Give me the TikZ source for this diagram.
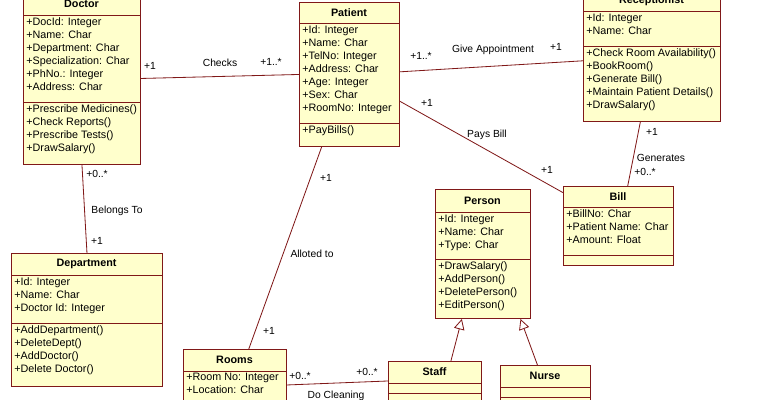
\documentclass[tikz,border=0pt]{standalone}
\usepackage{fontspec}
\setmainfont{Liberation Sans}
\usetikzlibrary{arrows.meta}
\definecolor{umlfill}{RGB}{255,255,204}
\definecolor{umlline}{RGB}{128,24,24}
\begin{document}
\begin{tikzpicture}[
        x=0.03cm, y=-0.03cm,
        cls/.style={rectangle, draw=umlline, fill=umlfill, line width=0.8pt, anchor=north west, inner sep=0pt},
        sep/.style={draw=umlline, line width=0.8pt},
        title/.style={font=\fontsize{9.2}{10}\selectfont\bfseries},
        body/.style={anchor=north west, align=left, inner sep=1pt, font=\fontsize{9.2}{11.1}\selectfont},
        assoc/.style={draw=umlline, line width=0.7pt},
        gen/.style={draw=umlline, line width=0.7pt, -{Triangle[open, length=9pt, width=9pt]}},
        label/.style={font=\fontsize{8.8}{10}\selectfont, inner sep=1pt}
    ]
        \useasboundingbox[fill=white] (0,0) rectangle (762,400);

        % Doctor
        \node[cls, minimum width=3.51cm, minimum height=5.16cm] (doctor) at (23,-8) {};
        \draw[sep] (23,15) -- (140,15) (23,102) -- (140,102);
        \node[title] (doctor-t) at (81.5,4) {Doctor};
        \node[body] (doctor-a) at (25,16) {+DocId: Integer\\+Name: Char\\+Department: Char\\+Specialization: Char\\+PhNo.: Integer\\+Address: Char};
        \node[body] (doctor-m) at (25,103) {+Prescribe Medicines()\\+Check Reports()\\+Prescribe Tests()\\+DrawSalary()};

        % Patient
        \node[cls, minimum width=3.0cm, minimum height=4.32cm] (patient) at (299,2) {};
        \draw[sep] (299,23) -- (399,23) (299,123) -- (399,123);
        \node[title] (patient-t) at (349,12.5) {Patient};
        \node[body] (patient-a) at (301,24) {+Id: Integer\\+Name: Char\\+TelNo: Integer\\+Address: Char\\+Age: Integer\\+Sex: Char\\+RoomNo: Integer};
        \node[body] (patient-m) at (301,124) {+PayBills()};

        % Receptionist
        \node[cls, minimum width=4.11cm, minimum height=3.93cm] (receptionist) at (583,-10) {};
        \draw[sep] (583,11) -- (720,11) (583,46) -- (720,46);
        \node[title] (receptionist-t) at (651.5,1) {Receptionist};
        \node[body] (receptionist-a) at (585,12) {+Id: Integer\\+Name: Char};
        \node[body] (receptionist-m) at (585,47) {+Check Room Availability()\\+BookRoom()\\+Generate Bill()\\+Maintain Patient Details()\\+DrawSalary()};

        % Bill
        \node[cls, minimum width=3.3cm, minimum height=2.37cm] (bill) at (563,186) {};
        \draw[sep] (563,207) -- (673,207) (563,255) -- (673,255);
        \node[title] (bill-t) at (618,196.5) {Bill};
        \node[body] (bill-a) at (565,208) {+BillNo: Char\\+Patient Name: Char\\+Amount: Float};

        % Person
        \node[cls, minimum width=2.85cm, minimum height=3.87cm] (person) at (435,189) {};
        \draw[sep] (435,212) -- (530,212) (435,259) -- (530,259);
        \node[title] (person-t) at (482.5,200.5) {Person};
        \node[body] (person-a) at (437,213) {+Id: Integer\\+Name: Char\\+Type: Char};
        \node[body] (person-m) at (437,260) {+DrawSalary()\\+AddPerson()\\+DeletePerson()\\+EditPerson()};

        % Department
        \node[cls, minimum width=4.53cm, minimum height=3.99cm] (department) at (11,253) {};
        \draw[sep] (11,275) -- (162,275) (11,323) -- (162,323);
        \node[title] (department-t) at (86.5,264) {Department};
        \node[body] (department-a) at (13,276) {+Id: Integer\\+Name: Char\\+Doctor Id: Integer};
        \node[body] (department-m) at (13,324) {+AddDepartment()\\+DeleteDept()\\+AddDoctor()\\+Delete Doctor()};

        % Rooms
        \node[cls, minimum width=3.09cm, minimum height=2.13cm] (rooms) at (183,349) {};
        \draw[sep] (183,371) -- (286,371);
        \node[title] (rooms-t) at (234.5,360) {Rooms};
        \node[body] (rooms-a) at (185,372) {+Room No: Integer\\+Location: Char};

        % Staff
        \node[cls, minimum width=2.79cm, minimum height=1.77cm] (staff) at (388,361) {};
        \draw[sep] (388,383) -- (481,383) (388,393) -- (481,393);
        \node[title] (staff-t) at (434.5,372) {Staff};

        % Nurse
        \node[cls, minimum width=2.7cm, minimum height=1.65cm] (nurse) at (500,365) {};
        \draw[sep] (500,387) -- (590,387) (500,397) -- (590,397);
        \node[title] (nurse-t) at (545,376) {Nurse};

        % Associations
        \draw[assoc] (doctor.east) -- (patient.west);
        \node[label] (l-checks) at (220,63) {Checks};
        \node[label] (m-checks1) at (150,66) {+1};
        \node[label] (m-checks2) at (271,62) {+1..*};

        \draw[assoc] (patient.3) -- (receptionist.184);
        \node[label] (l-appoint) at (493,50) {Give Appointment};
        \node[label] (m-appoint1) at (421,56) {+1..*};
        \node[label] (m-appoint2) at (556,47) {+1};

        \draw[assoc] (patient.-28) -- (bill.149);
        \node[label] (l-pays) at (487,135) {Pays Bill};
        \node[label] (m-pays1) at (427,103) {+1};
        \node[label] (m-pays2) at (547,170) {+1};

        \draw[assoc] (receptionist.-100) -- (bill.77);
        \node[label] (l-generates) at (661,158) {Generates};
        \node[label] (m-gen1) at (652,132) {+1};
        \node[label] (m-gen2) at (645,172) {+0..*};

        \draw[assoc] (doctor.south) -- (department.north);
        \node[label] (l-belongs) at (117,211) {Belongs To};
        \node[label] (m-bel1) at (97,174) {+0..*};
        \node[label] (m-bel2) at (97,241) {+1};

        \draw[assoc] (patient.-111) -- (rooms.69);
        \node[label] (l-alloted) at (312,254) {Alloted to};
        \node[label] (m-all1) at (326,178) {+1};
        \node[label] (m-all2) at (269,331) {+1};

        \draw[assoc] (rooms.east) -- (staff.168);
        \node[label] (l-cleaning) at (336,396) {Do Cleaning};
        \node[label] (m-clean1) at (300,376) {+0..*};
        \node[label] (m-clean2) at (367,372) {+0..*};

        % Generalization
        \draw[gen] (staff.62) -- (person.-108);
        \draw[gen] (nurse.106) -- (person.-60);
    \end{tikzpicture}
\end{document}
